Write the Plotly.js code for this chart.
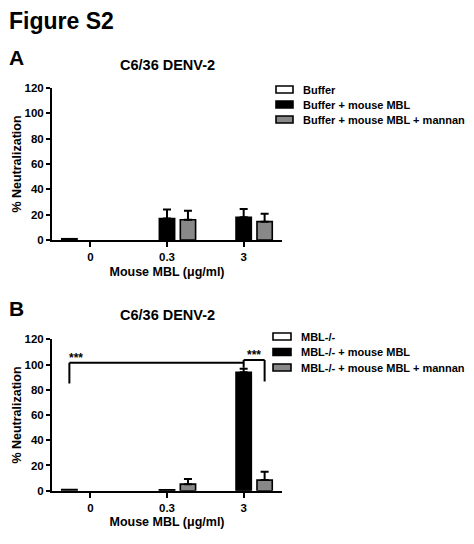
<!DOCTYPE html>
<html><head><meta charset="utf-8">
<script src="https://cdn.plot.ly/plotly-3.0.1.min.js"></script>
<style>html,body{margin:0;padding:0;background:#fff}#chart{width:474px;height:544px}</style>
</head><body><div id="chart"></div>
<script>
// ---------- data ----------
const categories = ['0', '0.3', '3'];
const seriesNamesA = ['Buffer', 'Buffer + mouse MBL', 'Buffer + mouse MBL + mannan'];
const seriesNamesB = ['MBL-/-', 'MBL-/- + mouse MBL', 'MBL-/- + mouse MBL + mannan'];
const panelTitles = ['C6/36 DENV-2', 'C6/36 DENV-2'];
const panelLetters = ['A', 'B'];
const figureTitle = 'Figure S2';
const xTitle = 'Mouse MBL (\u03bcg/ml)';
const yTitle = '% Neutralization';
const yTicks = [0, 20, 40, 60, 80, 100, 120];

// panel A
const aBuffer = [1, 0, 0];
const aBufferErr = [0, 0, 0];
const aMBL = [0, 17, 18];
const aMBLErr = [0, 7, 6.5];
const aMannan = [0, 16, 14.5];
const aMannanErr = [0, 7, 6.3];

// panel B
const bKO = [1, 0, 0];
const bKOErr = [0, 0, 0];
const bMBL = [0, 0.7, 93.8];
const bMBLErr = [0, 0, 2.8];
const bMannan = [0, 5.2, 8.4];
const bMannanErr = [0, 4, 6.6];

// significance brackets (panel B)
const sigLabels = ['***', '***'];
const sigFromCat = [0, 2];
const sigFromSeries = [0, 1];
const sigToCat = [2, 2];
const sigToSeries = [1, 2];
const sigLevel = [101.5, 103.5];
const sigFromFoot = [85, 97.5];
const sigToFoot = [101.5, 86.5];

// ---------- styling ----------
const FONT = 'Liberation Sans, Arial, Helvetica, sans-serif';
const seriesColors = ['#ffffff', '#000000', '#888888'];
const W = 474, H = 544;
const BARGAP = 0.18, GROUPGAP = 0.27;
const slot = (1 - BARGAP) / 3;
const px = v => v / W;
const py = v => 1 - v / H;

function barTrace(y, err, i, names, xa, ya) {
  const hasErr = err.some(e => e > 0);
  return {
    type: 'bar', x: categories, y: y, name: names[i],
    xaxis: xa, yaxis: ya, showlegend: false,
    marker: {color: seriesColors[i], line: {color: '#000', width: y.map(v => v === 0 ? 0 : 1.6)}},
    error_y: {type: 'data', symmetric: false,
              array: err.map(e => e > 0 ? e : NaN),
              arrayminus: err.map(e => e > 0 ? 0 : NaN),
              visible: hasErr, color: '#000', thickness: 2, width: 4}
  };
}

const data = [
  barTrace(aBuffer, aBufferErr, 0, seriesNamesA, 'x', 'y'),
  barTrace(aMBL, aMBLErr, 1, seriesNamesA, 'x', 'y'),
  barTrace(aMannan, aMannanErr, 2, seriesNamesA, 'x', 'y'),
  barTrace(bKO, bKOErr, 0, seriesNamesB, 'x2', 'y2'),
  barTrace(bMBL, bMBLErr, 1, seriesNamesB, 'x2', 'y2'),
  barTrace(bMannan, bMannanErr, 2, seriesNamesB, 'x2', 'y2')
];

const tickFont = {family: FONT, size: 11.5, color: '#000', weight: 'bold'};
const titleFont = {family: FONT, size: 12.5, color: '#000', weight: 'bold'};

function xAxis(anchor) {
  return {
    domain: [px(52), px(282)], anchor: anchor, type: 'category',
    range: [-0.5, 2.5], showline: true, linewidth: 2, linecolor: '#000',
    ticks: 'outside', ticklen: 5, tickwidth: 2, tickcolor: '#000',
    tickfont: tickFont, showgrid: false, zeroline: false, fixedrange: true,
    title: {text: xTitle, font: titleFont, standoff: 5}
  };
}
function yAxis(anchor, top, bottom) {
  return {
    domain: [py(bottom), py(top)], anchor: anchor, range: [0, 120],
    tickmode: 'array', tickvals: yTicks, ticktext: yTicks.map(String),
    showline: true, linewidth: 2, linecolor: '#000',
    ticks: 'outside', ticklen: 4, tickwidth: 2, tickcolor: '#000',
    tickfont: tickFont, showgrid: false, zeroline: false, fixedrange: true,
    title: {text: yTitle, font: titleFont, standoff: 0}
  };
}

const annotations = [];
const shapes = [];

annotations.push({xref: 'paper', yref: 'paper', x: px(7), y: py(21), xanchor: 'left', yanchor: 'middle',
  text: figureTitle, showarrow: false, font: {family: FONT, size: 23, color: '#000', weight: 'bold'}});

const panelTop = [88, 339.3];
const titleY = [65, 315];
const letterY = [58, 308];
panelLetters.forEach((l, k) => {
  annotations.push({xref: 'paper', yref: 'paper', x: px(7), y: py(letterY[k]), xanchor: 'left', yanchor: 'middle',
    text: l, showarrow: false, font: {family: FONT, size: 21, color: '#000', weight: 'bold'}});
  annotations.push({xref: 'paper', yref: 'paper', x: px(167), y: py(titleY[k]), xanchor: 'center', yanchor: 'middle',
    text: panelTitles[k], showarrow: false, font: {family: FONT, size: 14.5, color: '#000', weight: 'bold'}});
});

// custom legends
const legendCfg = [
  {names: seriesNamesA, bx0: 276, bx1: 293, tx: 301, ys: [89.5, 104.5, 119.5]},
  {names: seriesNamesB, bx0: 273, bx1: 291, tx: 298.5, ys: [336.5, 352, 367.5]}
];
legendCfg.forEach(cfg => {
  cfg.names.forEach((n, i) => {
    const yc = cfg.ys[i];
    shapes.push({type: 'rect', xref: 'paper', yref: 'paper', x0: px(cfg.bx0), x1: px(cfg.bx1),
      y0: py(yc + 3.5), y1: py(yc - 3.5), fillcolor: seriesColors[i], line: {color: '#000', width: 1.6}});
    annotations.push({xref: 'paper', yref: 'paper', x: px(cfg.tx), y: py(yc), xanchor: 'left', yanchor: 'middle',
      text: n, showarrow: false, font: {family: FONT, size: 11, color: '#000', weight: 'bold'}});
  });
});

// significance brackets
const barX = (cat, s) => cat + (s - 1) * slot;
const lineStyle = {color: '#000', width: 2};
sigLabels.forEach((lab, k) => {
  const x0 = barX(sigFromCat[k], sigFromSeries[k]);
  const x1 = barX(sigToCat[k], sigToSeries[k]);
  const yl = sigLevel[k];
  shapes.push({type: 'line', xref: 'x2', yref: 'y2', x0: x0, x1: x0, y0: sigFromFoot[k], y1: yl, line: lineStyle});
  shapes.push({type: 'line', xref: 'x2', yref: 'y2', x0: x0, x1: x1, y0: yl, y1: yl, line: lineStyle});
  if (sigToFoot[k] !== yl) {
    shapes.push({type: 'line', xref: 'x2', yref: 'y2', x0: x1, x1: x1, y0: yl, y1: sigToFoot[k], line: lineStyle});
  }
  const first = k === 0;
  annotations.push({xref: 'x2', yref: 'y2', x: first ? x0 : (x0 + x1) / 2, y: yl,
    xanchor: first ? 'left' : 'center', yanchor: 'bottom', yshift: -4, xshift: first ? -2 : 0,
    text: lab, showarrow: false, font: {family: FONT, size: 12, color: '#000', weight: 'bold'}});
});

const layout = {
  width: W, height: H, margin: {l: 0, r: 0, t: 0, b: 0},
  paper_bgcolor: '#fff', plot_bgcolor: '#fff',
  barmode: 'group', bargap: BARGAP, bargroupgap: GROUPGAP,
  showlegend: false, font: {family: FONT, color: '#000'},
  xaxis: xAxis('y'), yaxis: yAxis('x', panelTop[0], 240),
  xaxis2: xAxis('y2'), yaxis2: yAxis('x2', panelTop[1], 490.7),
  annotations: annotations, shapes: shapes
};

Plotly.newPlot('chart', data, layout, {staticPlot: true, displayModeBar: false});
</script>
</body></html>
